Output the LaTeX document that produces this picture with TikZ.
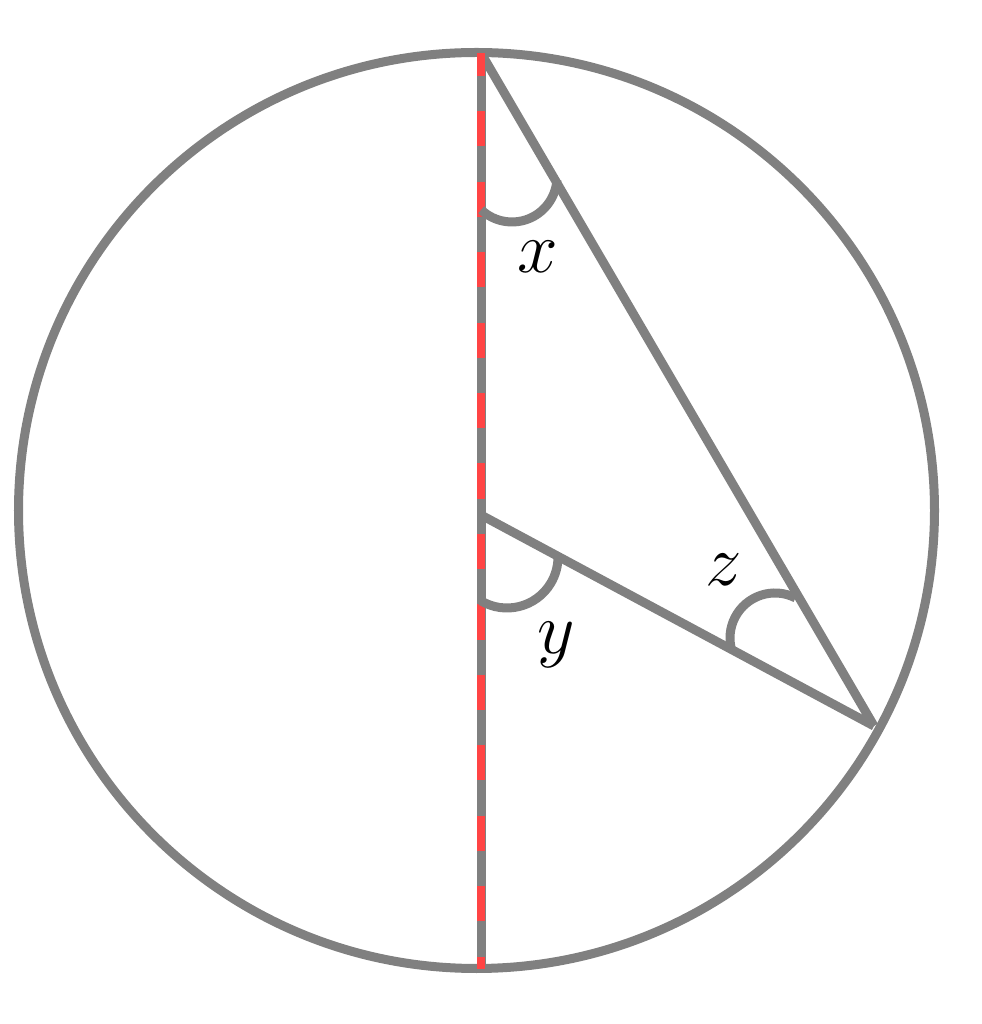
\documentclass[tikz,border=0pt]{standalone}
\definecolor{linegray}{RGB}{128,128,128}
\definecolor{dashred}{RGB}{255,68,68}
\begin{document}
\begin{tikzpicture}[x=0.01cm,y=0.01cm,
    edge/.style={draw=linegray,line width=0.09cm},
    redline/.style={draw=dashred,line width=0.08cm,dash pattern=on 0.352cm off 0.352cm,dash phase=0.122cm},
    anglemark/.style={draw=linegray,line width=0.09cm},
    anglelabel/.style={font=\fontsize{20}{20}\selectfont,inner sep=0pt}]
  \useasboundingbox (0,0) rectangle (982,1024);
  \coordinate (C) at (476.5,513.5);
  \coordinate (T) at (481,971);
  \coordinate (B) at (481,55);
  \coordinate (O) at (481,509);
  \coordinate (P) at (874,298);
  \coordinate (ax) at (512,847);
  \coordinate (ay) at (507,467);
  \coordinate (az) at (775,386);
  \draw[edge] (C) circle[radius=458];
  \begin{scope}[edge]
    \draw (T) -- (B);
    \draw (T) -- (P);
    \draw (O) -- (P);
  \end{scope}
  \draw[redline] (T) -- (B);
  \draw[anglemark] ([shift={(226.8:45)}]ax) arc[start angle=226.8,end angle=356.2,radius=45];
  \draw[anglemark] ([shift={(238.8:51)}]ay) arc[start angle=238.8,end angle=361.1,radius=51];
  \draw[anglemark] ([shift={(63:45)}]az) arc[start angle=63,end angle=196,radius=45];
  \node[anglelabel] (lx) at (538,767) {$x$};
  \node[anglelabel] (ly) at (556,379) {$y$};
  \node[anglelabel] (lz) at (724,454) {$z$};
\end{tikzpicture}
\end{document}
